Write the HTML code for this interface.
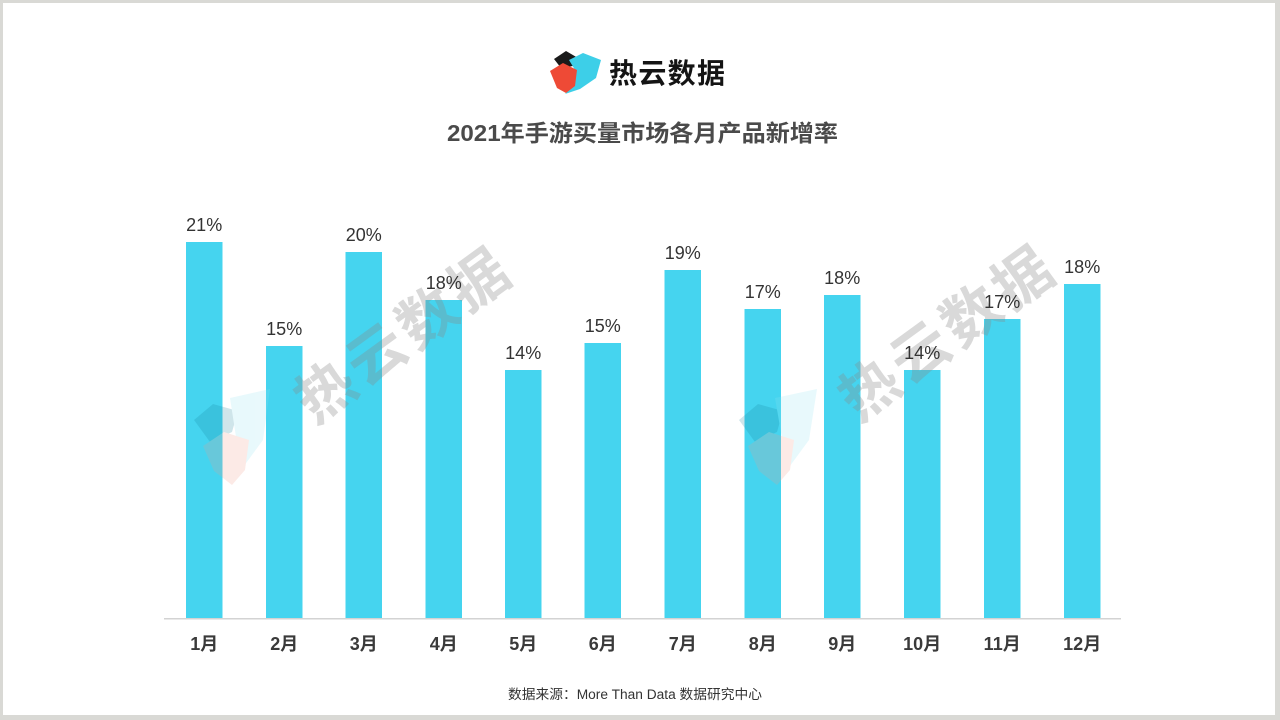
<!DOCTYPE html>
<html>
<head>
<meta charset="utf-8">
<style>
html,body{margin:0;padding:0;background:#fff;}
body{width:1280px;height:720px;overflow:hidden;}
svg{display:block;}
</style>
</head>
<body>
<svg width="1280" height="720" viewBox="0 0 1280 720" xmlns="http://www.w3.org/2000/svg">
  <!-- frame -->
  <rect x="0" y="0" width="1280" height="720" fill="#d9d9d5"/>
  <rect x="3" y="3" width="1272" height="712" fill="#ffffff"/>

  <!-- top logo -->
  <g>
    <polygon points="554,59 566,51 578,58 573,66 561,68" fill="#1a1a1a"/>
    <polygon points="569,60 583,53 601,60 596,78 580,89 565,94 573,86 575,70" fill="#3dcfe8"/>
    <polygon points="550,71 563,63 577,70 575,86 566,93 557,88" fill="#ee4a36"/>
  </g>
  <text x="609" y="83" font-family="'Liberation Sans','Noto Sans CJK SC',sans-serif" font-size="28" font-weight="bold" fill="#141414" textLength="116">热云数据</text>

  <!-- title -->
  <text x="447" y="141" font-family="'Liberation Sans','Noto Sans CJK SC',sans-serif" font-size="23" font-weight="bold" fill="#4a4a4a" textLength="391" lengthAdjust="spacingAndGlyphs">2021年手游买量市场各月产品新增率</text>

  <!-- bars -->
  <g fill="#45d4ef">
    <rect x="186" y="242" width="36.5" height="376"/>
    <rect x="266" y="346" width="36.5" height="272"/>
    <rect x="345.5" y="252" width="36.5" height="366"/>
    <rect x="425.5" y="300" width="36.5" height="318"/>
    <rect x="505" y="370" width="36.5" height="248"/>
    <rect x="584.5" y="343" width="36.5" height="275"/>
    <rect x="664.5" y="270" width="36.5" height="348"/>
    <rect x="744.5" y="309" width="36.5" height="309"/>
    <rect x="824" y="295" width="36.5" height="323"/>
    <rect x="904" y="370" width="36.5" height="248"/>
    <rect x="984" y="319" width="36.5" height="299"/>
    <rect x="1064" y="284" width="36.5" height="334"/>
  </g>

  <!-- watermark logos (faint, over bars) -->
  <g opacity="0.2">
    <polygon points="194,420 213,404 238,411 232,432 210,442" fill="#137f99"/>
    <polygon points="230,398 270,389 263,440 241,470 224,478 238,450" fill="#8fe3f2"/>
    <polygon points="203,446 224,432 249,440 245,470 232,485 214,471" fill="#f29a88"/>
  </g>
  <g opacity="0.2">
    <polygon points="739,420 758,404 783,411 777,432 755,442" fill="#137f99"/>
    <polygon points="775,398 817,389 809,440 787,470 770,478 784,450" fill="#8fe3f2"/>
    <polygon points="748,446 769,432 794,440 790,470 777,485 759,471" fill="#f29a88"/>
  </g>

  <!-- watermark text -->
  <g font-family="'Liberation Sans','Noto Sans CJK SC',sans-serif" font-size="58" font-weight="bold" fill="#8a8a8a" fill-opacity="0.32" text-anchor="middle">
    <text transform="translate(416,351) rotate(-36)" letter-spacing="5">热云数据</text>
    <text transform="translate(960,349) rotate(-36)" letter-spacing="5">热云数据</text>
  </g>

  <!-- value labels -->
  <g font-family="'Liberation Sans',sans-serif" font-size="18" fill="#333" text-anchor="middle">
    <text x="204.2" y="231">21%</text>
    <text x="284.2" y="335">15%</text>
    <text x="363.8" y="241">20%</text>
    <text x="443.8" y="289">18%</text>
    <text x="523.2" y="359">14%</text>
    <text x="602.8" y="332">15%</text>
    <text x="682.8" y="259">19%</text>
    <text x="762.8" y="298">17%</text>
    <text x="842.2" y="284">18%</text>
    <text x="922.2" y="359">14%</text>
    <text x="1002.2" y="308">17%</text>
    <text x="1082.2" y="273">18%</text>
  </g>

  <!-- axis -->
  <rect x="164" y="618" width="957" height="1.5" fill="#d3d3d3"/>

  <!-- category labels -->
  <g font-family="'Liberation Sans','Noto Sans CJK SC',sans-serif" font-size="18" font-weight="bold" fill="#3a3a3a" text-anchor="middle">
    <text x="204.2" y="650">1月</text>
    <text x="284.2" y="650">2月</text>
    <text x="363.8" y="650">3月</text>
    <text x="443.8" y="650">4月</text>
    <text x="523.2" y="650">5月</text>
    <text x="602.8" y="650">6月</text>
    <text x="682.8" y="650">7月</text>
    <text x="762.8" y="650">8月</text>
    <text x="842.2" y="650">9月</text>
    <text x="922.2" y="650">10月</text>
    <text x="1002.2" y="650">11月</text>
    <text x="1082.2" y="650">12月</text>
  </g>

  <!-- footer -->
  <text x="508" y="699" font-family="'Liberation Sans','Noto Sans CJK SC',sans-serif" font-size="13.5" fill="#333" textLength="254" lengthAdjust="spacingAndGlyphs">数据来源：More Than Data 数据研究中心</text>
</svg>
</body>
</html>
